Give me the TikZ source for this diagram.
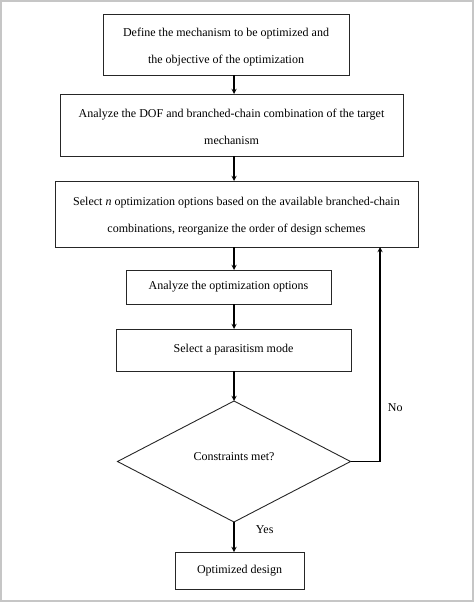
\documentclass[tikz,border=0pt]{standalone}
\usepackage{fontspec}
\setmainfont{Liberation Serif}
\usepackage{tikz}
\usetikzlibrary{shapes.geometric, arrows, positioning}
\tikzstyle{stepbox} = [rectangle, inner sep=2pt, outer sep=0pt, line width=0.9pt, text centered, draw=black!85, align=center, font=\fontsize{12}{27}\selectfont]
\tikzstyle{decision} = [diamond, inner sep=0pt, outer sep=0pt, line width=0.9pt, text centered, draw=black!85, align=center, font=\fontsize{12}{27}\selectfont]
\tikzstyle{tag} = [font=\fontsize{12}{14}\selectfont]
\tikzstyle{arrow} = [line width=1.3pt,->,>=stealth]

\begin{document}
\begin{tikzpicture}
        \useasboundingbox (0,0) rectangle (474pt,-602pt);
        \draw [gray!45, line width=2pt] (1pt,-1pt) rectangle (473pt,-601pt);
        \coordinate (spine) at (234pt,0);
        \node (define) [stepbox, minimum width=246pt, minimum height=61pt] at (226pt,-44.5pt) {\rule{0pt}{13pt}Define the mechanism to be optimized and\\the objective of the optimization};
        \node (dof) [stepbox, below=19pt of define, xshift=5.5pt, minimum width=343pt, minimum height=62pt] {\rule{0pt}{12pt}Analyze the DOF and branched-chain combination of the target\\mechanism};
        \node (select) [stepbox, below=25pt of dof, xshift=5pt, minimum width=363pt, minimum height=66pt] {\rule{0pt}{12pt}Select \textit{n} optimization options based on the available branched-chain\\combinations, reorganize the order of design schemes};
        \node (analyze) [stepbox, below=23pt of select, xshift=-8pt, minimum width=205pt, minimum height=34pt] {\raisebox{-3pt}{Analyze the optimization options}};
        \node (mode) [stepbox, below=25pt of analyze, xshift=5pt, minimum width=235pt, minimum height=42pt] {Select a parasitism mode};
        \node (check) [decision, below=30pt of mode, xshift=0.5pt, minimum width=233pt, minimum height=121pt] {\raisebox{10pt}{Constraints met?}};
        \node (result) [stepbox, below=30pt of check, xshift=5.5pt, minimum width=129pt, minimum height=37pt] {\raisebox{-2pt}{Optimized design}};
        \coordinate (back) at ([xshift=29.5pt]check.east);
        \draw [arrow] (define.south -| spine) -- (dof.north -| spine);
        \draw [arrow] (dof.south -| spine) -- (select.north -| spine);
        \draw [arrow] (select.south -| spine) -- (analyze.north -| spine);
        \draw [arrow] (analyze.south -| spine) -- (mode.north -| spine);
        \draw [arrow] (mode.south -| spine) -- (check);
        \draw [arrow] (check) -- node[tag, pos=0.27, right, xshift=18pt] {Yes} (result.north -| spine);
        \draw [arrow] (check.east) -- (back) -- node[tag, pos=0.25, right, xshift=4pt] {No} (back |- select.south);
        \end{tikzpicture}
\end{document}
